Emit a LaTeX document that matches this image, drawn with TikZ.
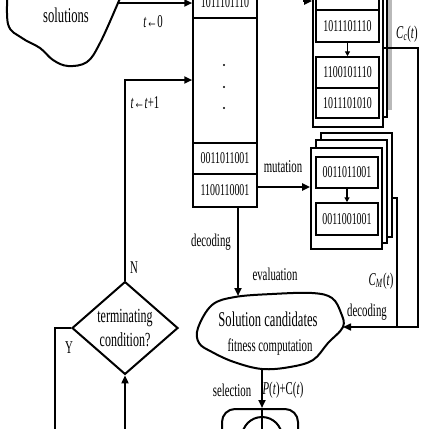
\documentclass[tikz,border=0pt]{standalone}
\usepackage{fontspec}
\setmainfont[FakeStretch=0.6]{Liberation Serif}
\usetikzlibrary{shapes.geometric,arrows.meta}
\begin{document}
\begin{tikzpicture}[x=1pt,y=-1pt,
  bits/.style={draw, line width=1.5pt, minimum width=63pt, minimum height=31pt, inner sep=0pt, font=\fontsize{16.5}{17}\selectfont},
  lbl/.style={inner sep=0pt, font=\fontsize{18}{19}\selectfont},
  big/.style={inner sep=0pt, font=\fontsize{21}{22}\selectfont},
  page/.style={draw, line width=1.8pt, fill=white, inner sep=0pt},
  arr/.style={line width=2pt, -{Triangle[length=8pt,width=7pt]}},
  arrsmall/.style={line width=1.3pt, -{Triangle[length=5pt,width=5pt]}},
  wire/.style={line width=1.5pt}]
\useasboundingbox (0,0) rectangle (429,429);
\clip (0,0) rectangle (429,429);
% initial solutions
\draw[line width=2pt] plot[smooth, tension=0.6] coordinates {(8,-15) (8,24) (22,38) (40,48) (53,60) (68,66) (87,62) (100,43) (118,3) (124,-12)};
\node[big] (sol) at (66,15) {solutions};
% population
\node[bits, minimum width=64pt] (pop1) at (225,2.5) {1011101110};
\node[bits, minimum width=64pt, minimum height=125pt] (popmid) at (225,80.5) {};
\node[bits, minimum width=64pt] (pop2) at (225,158.5) {0011011001};
\node[bits, minimum width=64pt, minimum height=33pt] (pop3) at (225,190.5) {1100110001};
\foreach \y in {65,87,108} \fill (224,\y) circle (1.2);
\coordinate (solout) at (117,3);
\draw[arr] (solout) -- (solout -| pop1.west);
\node[lbl] (t0) at (153,22) {\textit{t}←0};
\node[lbl] (t1) at (145,103) {\textit{t}←\textit{t}+1};
% crossover
\fill[gray!55] (323,-20) rectangle (392,110);
\draw[page] (318,-15) rectangle (387,117);
\node[page, minimum width=70pt, minimum height=140pt] (cfront) at (348,57) {};
\node[bits] (cx0) at (347.5,-5.5) {1100101010};
\node[bits, minimum height=32pt] (cx1) at (347.5,26) {1011101110};
\node[bits] (cx2) at (347.5,72.5) {1100101110};
\node[bits, minimum height=30pt] (cx3) at (347.5,103) {1011101010};
\draw[arrsmall] (cx1) -- (cx2);
\coordinate (cxin) at (303,1);
\draw[arr] (cxin) -- (cxin -| cfront.west);
% mutation
\draw[page] (321,133) rectangle (392,237);
\draw[page] (316,140) rectangle (387,243);
\node[page, minimum width=71pt, minimum height=101pt] (mfront) at (346.5,198.5) {};
\node[bits, minimum width=62pt] (mu1) at (347,172.5) {0011011001};
\node[bits, minimum width=62pt, minimum height=32pt] (mu2) at (347,219) {0011001001};
\draw[arrsmall] (mu1) -- (mu2);
\draw[arr] ([yshift=3.5pt]pop3.east) -- ([yshift=3.5pt]pop3.east -| mfront.west);
\node[lbl] (mut) at (283,167) {mutation};
% solution candidates
\draw[line width=2pt] plot[smooth cycle, tension=0.6] coordinates {(198,328) (212,305) (235,297) (272,294) (312,293) (332,298) (341,313) (343,327) (328,343) (313,360) (290,367) (262,369) (234,362) (212,352) (199,343)};
\node[big] (cand) at (268,319) {Solution candidates};
\node[lbl] (fit) at (270,347) {fitness computation};
\coordinate (candtop) at (238,296);
\coordinate (candin) at (343,327);
\coordinate (candbot) at (262,369);
\draw[arr] ([xshift=13pt]pop3.south) -- (candtop);
\node[lbl] (dec1) at (211,242) {decoding};
\node[lbl] (eva) at (275,274) {evaluation};
\coordinate (ccturn) at (418,48);
\draw[arr, line width=1.6pt] ([yshift=9pt]cfront.east) -- (ccturn) |- (candin);
\node[lbl] (cc) at (407,34) {\textit{C}\textsubscript{\textit{c}}(\textit{t})};
\coordinate (cmout) at (392,198);
\coordinate (cmturn) at (397,327);
\draw[wire] (cmout) -| (cmturn);
\node[lbl] (cm) at (381,281) {\textit{C}\textsubscript{\textit{M}}(\textit{t})};
\node[lbl] (dec2) at (367,312) {decoding};
% termination
\node[draw, diamond, line width=2pt, minimum width=106pt, minimum height=81pt, inner sep=0pt, align=center, font=\fontsize{20}{24}\selectfont] (cond) at (125,328) {terminating\\condition?};
\coordinate (loop) at (125,80);
\draw[arr] (cond.north) -- (loop) -- (loop -| popmid.west);
\node[lbl] (nlab) at (134,268) {N};
\coordinate (yend) at (55,440);
\draw[wire] (cond.west) -| (yend);
\node[lbl] (ylab) at (69,348) {Y};
\coordinate (nin) at (125,440);
\draw[arr] (nin) -- (cond.south);
% selection
\node[draw, line width=2pt, rounded corners=13pt, minimum width=76pt, minimum height=60pt] (newpop) at (260,439) {};
\draw[arr] (candbot) -- (newpop.north -| candbot);
\draw[line width=1.6pt] (newpop.north -| candbot) -- ++(0,35);
\draw[line width=2pt] (262,437) circle (20);
\node[lbl] (sel) at (232,390) {selection};
\node[lbl] (pc) at (283,390) {\textit{P}(\textit{t})+C(\textit{t})};
\end{tikzpicture}
\end{document}
